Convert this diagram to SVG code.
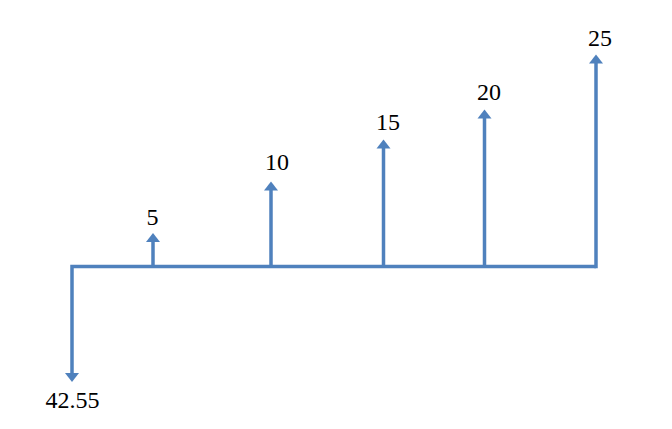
<svg xmlns="http://www.w3.org/2000/svg" width="672" height="429" viewBox="0 0 672 429">
<style>
.ln{stroke:#4F81BD;stroke-width:3.5;fill:none;stroke-linecap:butt}
.ah{fill:#4F81BD}
.lb{font-family:"Liberation Serif","DejaVu Serif",serif;font-size:24px;fill:#000;text-anchor:middle}
</style>
<rect width="672" height="429" fill="#fff"/>
<g id="connectors">
<path class="ln" d="M72,266.5 H596 M72,264.75 V373"/>
<path class="ah" d="M65,373 H79 L72,382 Z"/>
<path class="ln" d="M153,266.5 V241"/>
<path class="ah" d="M146,242 H160 L153,233 Z"/>
<path class="ln" d="M271,266.5 V189"/>
<path class="ah" d="M264,190.5 H278 L271,181.5 Z"/>
<path class="ln" d="M383.5,266.5 V147"/>
<path class="ah" d="M376.5,148.5 H390.5 L383.5,139.5 Z"/>
<path class="ln" d="M484.5,266.5 V117"/>
<path class="ah" d="M477.5,118.5 H491.5 L484.5,109.5 Z"/>
<path class="ln" d="M596,268.25 V62"/>
<path class="ah" d="M589,63.5 H603 L596,54.5 Z"/>
</g>
<g id="n0"><text class="lb" x="72.5" y="408">42.55</text></g>
<g id="n1"><text class="lb" x="152.5" y="225">5</text></g>
<g id="n2"><text class="lb" x="277" y="170">10</text></g>
<g id="n3"><text class="lb" x="388" y="130">15</text></g>
<g id="n4"><text class="lb" x="489" y="100">20</text></g>
<g id="n5"><text class="lb" x="600" y="46">25</text></g>
</svg>
